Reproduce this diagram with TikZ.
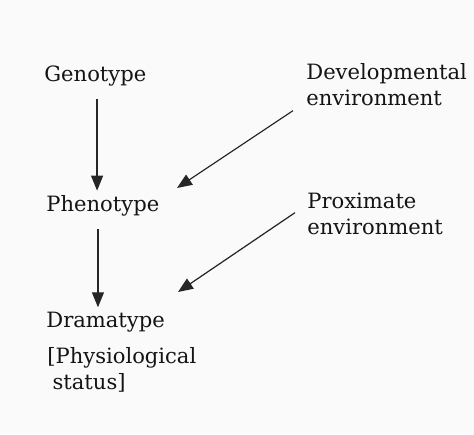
\documentclass[tikz,border=0pt]{standalone}
\usepackage{fontspec}
\setmainfont{DejaVu Serif}
\usetikzlibrary{positioning,arrows.meta}

\begin{document}
\begin{tikzpicture}[x=0.02cm, y=-0.02cm,
						term/.style={inner sep=0pt, font=\fontsize{12}{14}\selectfont, text=black!92},
						env/.style={inner sep=0pt, font=\fontsize{12}{14.5}\selectfont, text=black!92, align=left},
						arr/.style={draw=black!85, line width=0.7pt, -{Triangle[length=0.3cm, width=0.24cm]}}
					]
					\fill[black!2] (0,0) rectangle (474,434);
					\useasboundingbox (0,0) rectangle (474,434);
					\node[term, anchor=base west] (geno) at (44,81) {Genotype};
					\node[term, anchor=base west] (pheno) at (46,211) {Phenotype};
					\node[term, anchor=base west] (drama) at (46,327) {Dramatype};
					\node[env, anchor=base west] (status) at (47,389) {[Physiological\\\hspace{3pt}status]};
					\node[env, anchor=base west] (dev) at (306,105) {Developmental\\environment};
					\node[env, anchor=base west] (prox) at (307,234) {Proximate\\environment};
					\coordinate (devtip) at (177,188);
					\coordinate (proxtip) at (178,292);
					\draw[arr, shorten <=0.26cm, shorten >=0.08cm] ([xshift=1pt]geno.south) -- ([xshift=1pt]geno.south |- pheno.north);
					\draw[arr, shorten <=0.26cm, shorten >=0.08cm] ([xshift=1.5pt]pheno.south -| geno.south) -- ([xshift=1.5pt]drama.north -| geno.south);
					\draw[arr] ([shift={(-13,5)}]dev.south west) -- (devtip);
					\draw[arr] ([shift={(-12,-22)}]prox.south west) -- (proxtip);
\end{tikzpicture}
\end{document}
